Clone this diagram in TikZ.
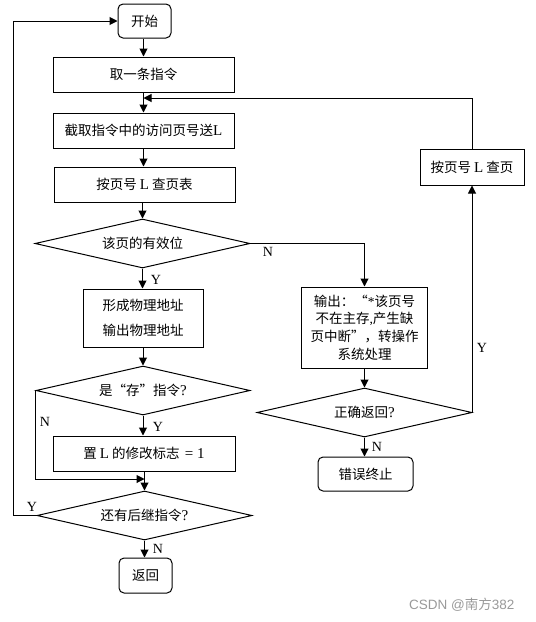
\documentclass[tikz,border=0pt]{standalone}
\usepackage{fontspec}
\setmainfont{Noto Sans CJK SC}
\newfontfamily\lat{Liberation Serif}
\newfontfamily\wm{Liberation Sans}
\usetikzlibrary{shapes.geometric,arrows.meta,calc}
\begin{document}
\begin{tikzpicture}[x=1pt,y=-1pt,
  every node/.style={font=\fontsize{13.5}{16}\selectfont, inner sep=0pt, align=center},
  box/.style={draw, line width=1pt, rectangle},
  term/.style={draw, line width=1pt, rectangle, rounded corners=5pt},
  dec/.style={draw, line width=1pt, diamond, aspect=4},
  arr/.style={line width=1pt, -{Triangle[length=8pt,width=8pt]}},
  ln/.style={line width=1pt},
  lbl/.style={font=\lat\fontsize{14}{16}\selectfont}]
\useasboundingbox (0,0) rectangle (536,622);

\node[term, minimum width=53pt, minimum height=34pt] (start) at (144.5,21) {开始};
\node[box, minimum width=181pt, minimum height=35pt] (fetch) at (143.5,74.5) {取一条指令};
\node[box, minimum width=181pt, minimum height=35pt] (extract) at (143.5,130.5) {截取指令中的访问页号送{\lat\fontsize{15}{16}\selectfont L}};
\node[box, minimum width=181pt, minimum height=35pt] (lookup) at (144.5,184.5) {按页号 {\lat\fontsize{15}{16}\selectfont L} 查页表};
\node[dec, minimum width=215pt, minimum height=49pt] (valid) at (142.5,243.5) {该页的有效位};
\node[box, minimum width=120pt, minimum height=58pt, font=\fontsize{13.5}{25}\selectfont] (phys) at (143,318) {形成物理地址\\输出物理地址};
\node[dec, minimum width=214pt, minimum height=49pt] (store) at (143,390.5) {是“存”指令{\lat\fontsize{15}{16}\selectfont ?}};
\node[box, minimum width=182pt, minimum height=35pt] (setL) at (144,453.5) {置 {\lat\fontsize{15}{16}\selectfont L} 的修改标志 \,{\lat\fontsize{15}{16}\selectfont = 1}};
\node[dec, minimum width=215pt, minimum height=49pt] (more) at (144.5,515.5) {还有后继指令{\lat\fontsize{15}{16}\selectfont ?}};
\node[term, minimum width=53pt, minimum height=35pt] (ret) at (145.5,575.5) {返回};

\node[box, minimum width=126pt, minimum height=81pt, font=\fontsize{13.5}{17.7}\selectfont] (out) at (364.5,327.5) {输出：“{\lat *}该页号\\不在主存{\lat ,}产生缺\\页中断”，转操作\\系统处理};
\node[dec, minimum width=215pt, minimum height=49pt] (ok) at (364.5,412.5) {正确返回{\lat\fontsize{15}{16}\selectfont ?}};
\node[term, minimum width=95pt, minimum height=34pt] (err) at (365.5,474) {错误终止};
\node[box, minimum width=104pt, minimum height=36pt] (query) at (472,167) {按页号 {\lat\fontsize{15}{16}\selectfont L} 查页};

\coordinate (merge) at (143.5,98);
\coordinate (join) at (144.5,479);
\coordinate (lft) at (13,0);

\draw[arr] (start.south -| fetch.north) -- (fetch.north);
\draw[arr] (fetch.south) -- (extract.north);
\draw[arr] (extract.south) -- (extract.south |- lookup.north);
\draw[arr] (lookup.south -| valid.north) -- (valid.north);
\draw[arr] (valid.south) -- (valid.south |- phys.north);
\draw[arr] (valid.east) -| (out.north);
\draw[arr] (out.south) -- (out.south |- ok.north);
\draw[arr] (ok.south) -- (ok.south |- err.north);
\draw[arr] (ok.east) -| (query.south);
\draw[arr] (query.north) |- (merge);
\draw[arr] (phys.south -| store.north) -- (store.north);
\draw[arr] (store.south) -- (store.south |- setL.north);
\draw[arr] (setL.south -| more.north) -- (more.north);
\draw[arr] (store.west) |- (join);
\draw[arr] (more.west) -- (more.west -| lft) |- (start.west);
\draw[arr] (more.south) -- (more.south |- ret.north);

\node[lbl] at (268,252) {N};
\node[lbl] at (156,280) {Y};
\node[lbl] at (45,422) {N};
\node[lbl] at (158,427) {Y};
\node[lbl] at (32,507) {Y};
\node[lbl] at (158,549) {N};
\node[lbl] at (482,348) {Y};
\node[lbl] at (377,447) {N};

\node[font=\fontsize{13.5}{15}\selectfont, text=black!40, anchor=west] (wmk) at (409,605) {{\wm CSDN @}南方{\wm 382}};
\end{tikzpicture}
\end{document}
